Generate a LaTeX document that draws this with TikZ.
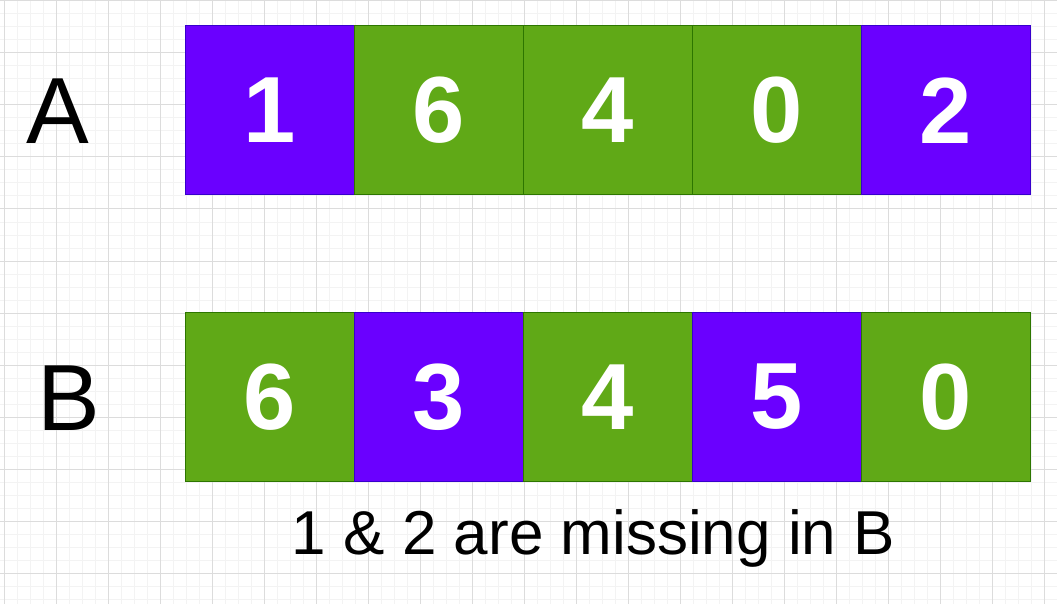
\documentclass[tikz,border=0pt]{standalone}
\usepackage{fontspec}
\setmainfont{Liberation Sans}
\definecolor{purp}{HTML}{6A00FF}
\definecolor{purpline}{HTML}{3700CC}
\definecolor{grn}{HTML}{60A917}
\definecolor{grnline}{HTML}{2D7600}
\definecolor{gridminor}{HTML}{F3F3F3}
\definecolor{gridmajor}{HTML}{DCDCDC}
\tikzset{
  cell/.style={minimum width=169pt, minimum height=169pt, inner sep=0pt, outer sep=0pt,
    line width=1pt, text=white, font=\fontsize{94}{100}\selectfont\bfseries},
  pcell/.style={cell, fill=purp, draw=purpline},
  gcell/.style={cell, fill=grn, draw=grnline},
  rowlabel/.style={anchor=base, inner sep=0pt, font=\fontsize{94}{100}\selectfont},
  caption/.style={anchor=base, inner sep=0pt, font=\fontsize{62}{70}\selectfont},
}
\begin{document}
\begin{tikzpicture}[x=1pt,y=-1pt]
\useasboundingbox (0,0) rectangle (1057,604);
\fill[white] (0,0) rectangle (1057,604);
% grid
\begin{scope}
\clip (0,0) rectangle (1057,604);
\foreach \i in {0,...,82} {
  \draw[gridminor, line width=1pt] ({-9+13*\i},0) -- ({-9+13*\i},604);
}
\foreach \i in {0,...,46} {
  \draw[gridminor, line width=1pt] (0,{1+13*\i}) -- (1057,{1+13*\i});
}
\foreach \i in {0,...,20} {
  \draw[gridmajor, line width=1pt] ({4+52*\i},0) -- ({4+52*\i},604);
}
\foreach \i in {0,...,11} {
  \draw[gridmajor, line width=1pt] (0,{1+52*\i}) -- (1057,{1+52*\i});
}
\end{scope}
% row A
\node[pcell] (a1) at (269.5,110.5) {1};
\node[gcell] (a2) at (438.5,110.5) {6};
\node[gcell] (a3) at (607.5,110.5) {4};
\node[gcell] (a4) at (776.5,110.5) {0};
\node[pcell] (a5) at (945.5,110.5) {2};
% row B
\node[gcell] (b1) at (269.5,397) {6};
\node[pcell] (b2) at (438.5,397) {3};
\node[gcell] (b3) at (607.5,397) {4};
\node[pcell] (b4) at (776.5,397) {5};
\node[gcell] (b5) at (945.5,397) {0};
% labels
\node[rowlabel] (la) at (57.5,144) {A};
\node[rowlabel] (lb) at (68.5,430) {B};
\node[caption] (cap) at (593.5,554) {1 \& 2 are missing in B};
\end{tikzpicture}
\end{document}
